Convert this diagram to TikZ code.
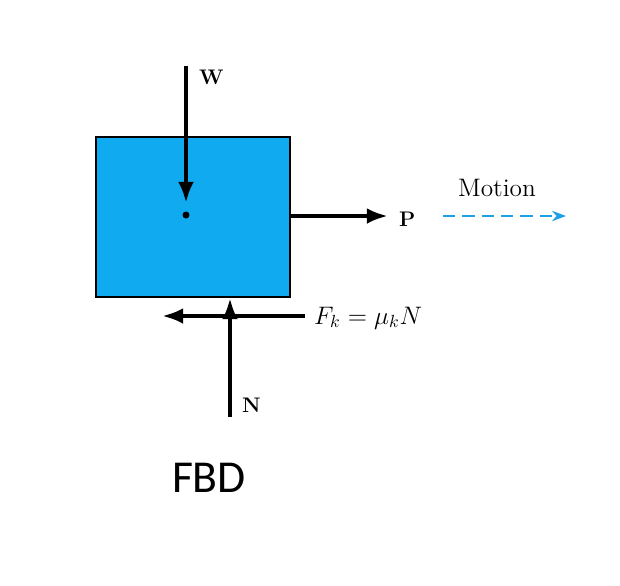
\documentclass[tikz,border=0pt]{standalone}
\usepackage{fontspec}
\newfontfamily\fbdfont{Carlito}
\usepackage{amsmath}
\usetikzlibrary{arrows.meta}
\definecolor{blockblue}{RGB}{16,170,240}
\definecolor{motionblue}{RGB}{30,160,230}
\tikzset{
  force/.style={line width=2.8pt, -{Latex[length=12pt,width=9pt]}},
  flabel/.style={font=\bfseries\large}
}
\begin{document}
\begin{tikzpicture}[x=0.02cm,y=-0.02cm]
        \useasboundingbox (0,0) rectangle (620,586);
        % block
        \draw[fill=blockblue, line width=0.8pt] (96,137) rectangle (290,297);
        \coordinate (c) at (186,215);
        \fill (c) circle (3.5);

        % weight
        \coordinate (wtop) at (186,66);
        \draw[force] (wtop) -- (186,203);
        \node[flabel, anchor=west] (w) at (193,77) {W};

        % push
        \coordinate (pstart) at (290,216);
        \coordinate (pend) at (388,216);
        \draw[force] (pstart) -- (pend);
        \node[flabel, anchor=west] (p) at (393,219) {P};

        % motion
        \node[font=\Large] (motion) at (497,188) {Motion};
        \coordinate (mstart) at (443,216);
        \coordinate (mend) at (566,216);
        \draw[motionblue, line width=1pt, dash pattern=on 7pt off 4pt, -{Stealth[length=8pt]}] (mstart) -- (mend);

        % friction
        \coordinate (fstart) at (305,316);
        \coordinate (fend) at (162,316);
        \draw[force] (fstart) -- (fend);
        \node[anchor=west, font=\Large] (fk) at (308,318) {$F_k = \mu_k N$};

        % normal
        \coordinate (nbot) at (230,417);
        \coordinate (ntop) at (230,298);
        \draw[force] (nbot) -- (ntop);
        \node[flabel, anchor=west] (n) at (236,405) {N};

        \node[font=\fbdfont\fontsize{26}{30}\selectfont] (fbd) at (209,478) {FBD};
\end{tikzpicture}
\end{document}
